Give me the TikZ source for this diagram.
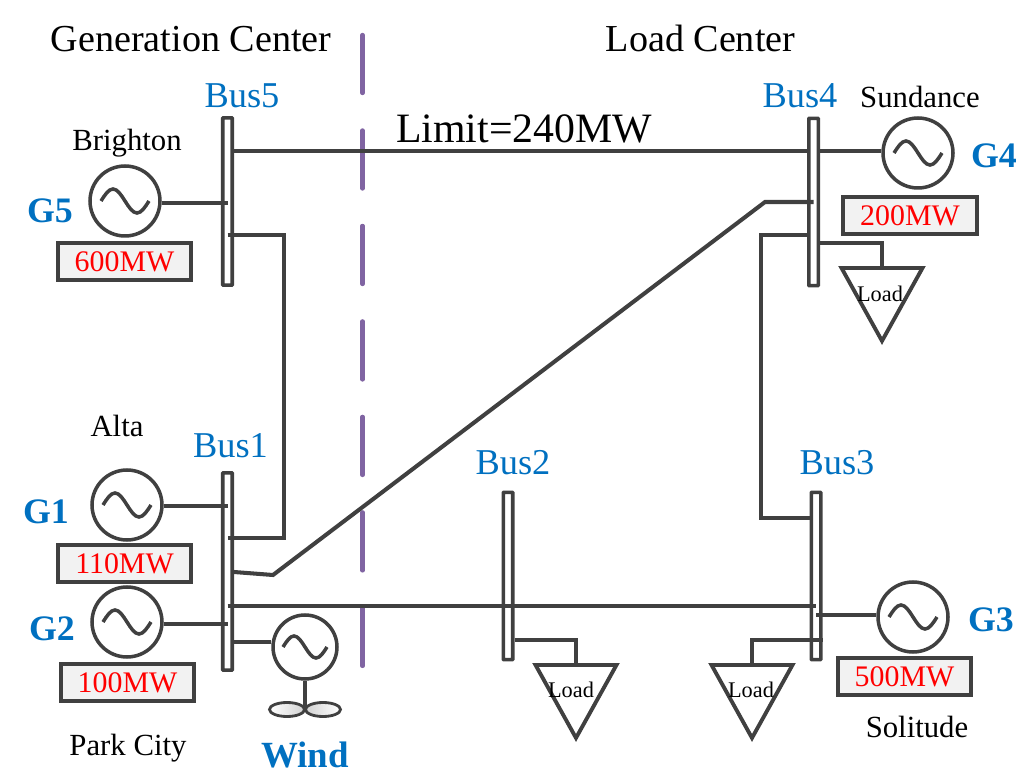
\documentclass[tikz,border=0pt]{standalone}
\usepackage{fontspec}
\setmainfont{Liberation Serif}
\usetikzlibrary{shapes.geometric,calc}
\definecolor{wirecol}{HTML}{404040}
\definecolor{buslabel}{HTML}{0070C0}
\definecolor{cutcol}{HTML}{8064A2}
\definecolor{boxfill}{HTML}{F2F2F2}
\tikzset{
  wire/.style={draw=wirecol,line width=2.3pt,line join=miter},
  busbar/.style={draw=wirecol,fill=white,line width=2pt,rectangle,minimum width=0.19cm,inner sep=0pt,rounded corners=0.3pt},
  gencircle/.style={draw=wirecol,fill=white,line width=2pt,circle,inner sep=0pt},
  mwbox/.style={draw=wirecol,fill=boxfill,line width=2.1pt,rectangle,minimum width=2.67cm,minimum height=0.73cm,inner sep=0pt,text=red,font=\fontsize{17}{20}\selectfont},
  loadtri/.style={draw=wirecol,line width=2.2pt,isosceles triangle,isosceles triangle stretches,shape border rotate=-90,minimum width=1.62cm,minimum height=1.46cm,inner sep=0pt,anchor=apex},
  leaf/.style={draw=wirecol,line width=1.6pt,ellipse,minimum width=0.7cm,minimum height=0.28cm,inner sep=0pt},
  headtext/.style={anchor=base,font=\fontsize{21.7}{26}\selectfont},
  placetext/.style={anchor=base,font=\fontsize{17.5}{21}\selectfont},
  bustext/.style={anchor=base,text=buslabel,font=\fontsize{20.7}{25}\selectfont},
  gentext/.style={anchor=base,text=buslabel,font=\bfseries\fontsize{20.4}{25}\selectfont},
  loadtext/.style={anchor=base,font=\fontsize{12.7}{15}\selectfont},
}
\begin{document}
\begin{tikzpicture}[x=0.02cm,y=-0.02cm]
\useasboundingbox (0,0) rectangle (1024,776);
% cut line
\coordinate (cuttop) at (362.5,35);
\coordinate (cutbot) at (362.5,668);
\draw[draw=cutcol,line width=2.5pt,line cap=round,dash pattern=on 1.16cm off 0.75cm] (cuttop) -- (cutbot);
% buses
\node[busbar,minimum height=3.35cm] (bus5) at (227.5,201.5) {};
\node[busbar,minimum height=3.95cm] (bus1) at (227.5,571.5) {};
\node[busbar,minimum height=3.35cm] (bus2) at (508,576) {};
\node[busbar,minimum height=3.35cm] (bus3) at (816,576) {};
\node[busbar,minimum height=3.35cm] (bus4) at (813.5,202) {};
% generators
\foreach \gname/\gx/\gy/\gsize/\gw in {gfive/125/201/1.4/12,gone/127/505/1.4/12,gtwo/127/622/1.4/12,gwind/305/647/1.28/11,gfour/918/153/1.4/12,gthree/913/617/1.4/12}{
  \node[gencircle,minimum size=\gsize cm] (\gname) at (\gx,\gy) {};
  \draw[wirecol,line width=2pt] ($(\gname.center)+(-2*\gw,0)$) sin ++(\gw,-\gw) cos ++(\gw,\gw) sin ++(\gw,\gw) cos ++(\gw,-\gw);
}
% ratings
\node[mwbox] (box5) at (124.5,261.5) {600MW};
\node[mwbox] (box1) at (124.5,563.5) {110MW};
\node[mwbox] (box2) at (127.5,682.5) {100MW};
\node[mwbox] (box4) at (910,215.5) {200MW};
\node[mwbox] (box3) at (904.5,676.5) {500MW};
% loads
\node[loadtri] (load4) at (882,346) {};
\node[loadtri] (load2) at (576,743) {};
\node[loadtri] (load3) at (752,743) {};
\node[loadtext] (load4txt) at (880,302) {Load};
\node[loadtext] (load2txt) at (571,697) {Load};
\node[loadtext] (load3txt) at (751,697) {Load};
% wind turbine
\node[leaf,left color=white,right color=gray!35] (leafl) at (287,709.5) {};
\node[leaf,left color=gray!35,right color=white] (leafr) at (323,709.5) {};
\draw[wire] (gwind.south) -- (gwind.south |- leafl.center); % turbine stem
% lines
\draw[wire] (bus5.east |- 0,151) -- (bus4.west |- 0,151); % Bus5-Bus4
\draw[wire] (bus4.east |- 0,151) -- (gfour.west |- 0,151); % G4
\draw[wire] (gfive.east |- 0,203) -- (bus5.center |- 0,203); % G5
\draw[wire] (bus5.center |- 0,235) -| (284,538) -- (bus1.center |- 0,538); % Bus5-Bus1
\draw[wire] (gone.east |- 0,506) -- (bus1.center |- 0,506); % G1
\draw[wire] (gtwo.east |- 0,624) -- (bus1.center |- 0,624); % G2
\draw[wire] (bus1.east |- 0,572) -- (273,575) -- (765,202) -- (bus4.center |- 0,202); % Bus1-Bus4
\draw[wire] (bus1.center |- 0,606) -- (bus3.center |- 0,606); % Bus1-Bus3
\draw[wire] (bus1.east |- 0,642) -- (gwind.west |- 0,642); % wind
\draw[wire] (bus4.west |- 0,235) -| (761,518) -- (bus3.west |- 0,518); % Bus4-Bus3
\draw[wire] (bus4.east |- 0,243) -| (load4.lower side); % Bus4 load
\draw[wire] (bus2.east |- 0,640) -| (load2.lower side); % Bus2 load
\draw[wire] (bus3.east |- 0,640) -| (load3.lower side); % Bus3 load
\draw[wire] (bus3.center |- 0,615) -- (gthree.west |- 0,615); % G3
% labels
\node[headtext] (gencenter) at (191,52) {Generation Center};
\node[headtext] (loadcenter) at (700.5,52) {Load Center};
\node[anchor=base,font=\fontsize{23.8}{28}\selectfont] (limit) at (524,143) {Limit=240MW};
\node[bustext] (bus5txt) at (242,108) {Bus5};
\node[bustext] (bus1txt) at (230.5,458) {Bus1};
\node[bustext] (bus2txt) at (513,475) {Bus2};
\node[bustext] (bus3txt) at (837,475) {Bus3};
\node[bustext] (bus4txt) at (800,108) {Bus4};
\node[placetext] (brighton) at (127,151) {Brighton};
\node[placetext] (alta) at (117,437) {Alta};
\node[placetext] (parkcity) at (128,755) {Park City};
\node[placetext] (sundance) at (920,108) {Sundance};
\node[placetext] (solitude) at (917,737) {Solitude};
\node[gentext] (g5txt) at (50,223) {G5};
\node[gentext] (g1txt) at (46,523) {G1};
\node[gentext] (g2txt) at (52,640) {G2};
\node[gentext] (g4txt) at (994,168) {G4};
\node[gentext] (g3txt) at (991,631) {G3};
\node[gentext,font=\bfseries\fontsize{21}{25}\selectfont] (windtxt) at (305,767) {Wind};
\end{tikzpicture}
\end{document}
